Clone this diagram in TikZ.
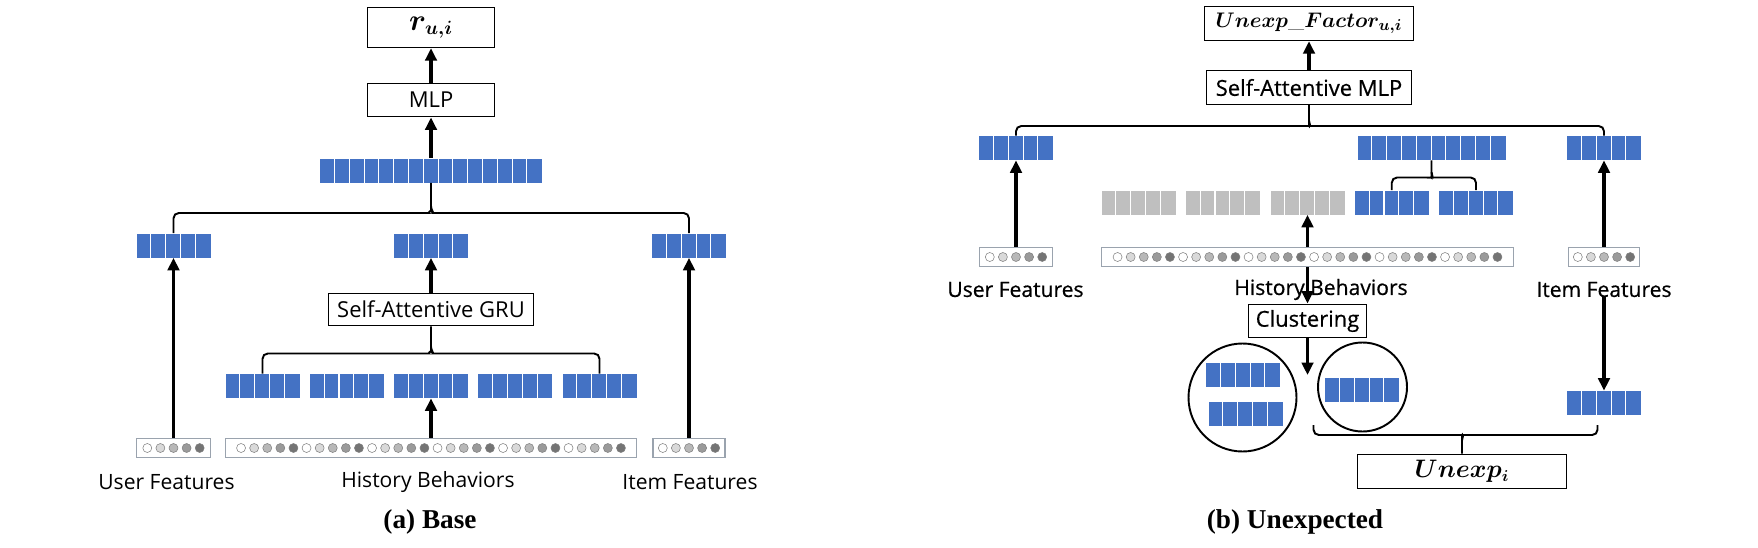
\documentclass[tikz,border=0pt]{standalone}
\usepackage{amsmath,amssymb}
\usepackage{fontspec}
\usepackage{tikz}
\usetikzlibrary{arrows.meta}
\newfontfamily\lblfont{Open Sans}
\newfontfamily\lblfontb{Open Sans}[FakeBold=0.6]
\newfontfamily\captfont{Liberation Serif}
\definecolor{vecblue}{HTML}{4472C4}
\definecolor{vecgray}{HTML}{BFBFBF}
\definecolor{featline}{HTML}{9AA3AE}
\definecolor{dotline}{HTML}{7F7F7F}
\definecolor{dot0}{HTML}{FFFFFF}
\definecolor{dot1}{HTML}{D9D9D9}
\definecolor{dot2}{HTML}{B8B8B8}
\definecolor{dot3}{HTML}{9A9A9A}
\definecolor{dot4}{HTML}{747474}
\newcommand{\cellw}{0.296cm}
\newcommand{\dotstep}{0.262cm}
\tikzset{
  opbox/.style={draw=black, line width=0.8pt, fill=white, inner sep=2pt,
                minimum height=0.67cm, font=\lblfont\fontsize{12.5}{14}\selectfont},
  opboxb/.style={opbox, font=\lblfontb\fontsize{12.5}{14}\selectfont},
  mathbox/.style={opbox, font=\fontsize{13.5}{15}\selectfont\boldmath},
  vecbar/.style={inner sep=0pt, minimum height=0.48cm},
  celldiv/.style={draw=white, line width=0.6pt},
  featbox/.style={draw=featline, line width=0.6pt, inner sep=0pt, minimum height=0.38cm},
  dotc/.style={draw=dotline, line width=0.3pt},
  clusring/.style={circle, draw=black, line width=1.1pt, inner sep=0pt},
  flabel/.style={font=\lblfont\fontsize{12}{14}\selectfont, inner sep=0pt},
  flabelb/.style={font=\lblfontb\fontsize{12}{14}\selectfont, inner sep=0pt},
  arr/.style={-{Triangle[length=0.25cm,width=0.23cm]}, line width=2pt},
  brace/.style={line width=1.1pt, rounded corners=3pt},
  capt/.style={font=\captfont\fontsize{15.5}{17}\selectfont\bfseries},
}
% a row of embedding cells: name, position, cells, fill
\newcommand{\embvec}[4]{%
  \node[vecbar, fill=#4, minimum width=#3*\cellw] (#1) at (#2) {};
  \foreach \k in {2,...,#3}
    \draw[celldiv] ([xshift=\k*\cellw-\cellw]#1.south west) -- ([xshift=\k*\cellw-\cellw]#1.north west);
}
% a feature strip of dots: name, position, dots, box width
\newcommand{\featrow}[4]{%
  \node[featbox, minimum width=#4] (#1) at (#2) {};
  \foreach \k in {1,...,#3}{
    \pgfmathtruncatemacro{\shade}{mod(\k-1,5)}
    \draw[dotc, fill=dot\shade] ([xshift=\k*\dotstep-#3*\dotstep/2-\dotstep/2]#1.center) circle (0.09cm);
  }
}

\begin{document}
\begin{tikzpicture}
  \useasboundingbox (0,0) rectangle (35.16,-10.94);

  % --- (a) Base: top ---
  \node[mathbox, minimum width=2.53cm, minimum height=0.80cm, font=\fontsize{16}{18}\selectfont\boldmath] (rui) at (8.62,-0.55) {$r_{u,i}$};
  \node[opbox, minimum width=2.53cm] (mlp) at (8.62,-2.00) {MLP};
  \embvec{acat}{8.62,-3.41}{15}{vecblue}
  \draw[arr] (mlp.north) -- (rui.south);
  \draw[arr] (acat.north) -- (mlp.south);

  % --- (a) three feature embeddings ---
  \embvec{auser}{3.47,-4.91}{5}{vecblue}
  \embvec{ahist}{8.62,-4.91}{5}{vecblue}
  \embvec{aitem}{13.78,-4.91}{5}{vecblue}
  \coordinate (ajoin) at (8.62,-4.26);
  \draw[brace] (auser.north) |- ([xshift=-4pt]ajoin) to[out=0,in=-90] ([yshift=4pt]ajoin) -- (acat.south);
  \draw[brace] (aitem.north) |- ([xshift=4pt]ajoin) to[out=180,in=-90] ([yshift=4pt]ajoin);

  % --- (a) behaviour sequence ---
  \node[opbox, minimum width=4.10cm, minimum height=0.65cm] (gru) at (8.62,-6.19) {Self-Attentive GRU};
  \draw[arr] (gru.north) -- (ahist.south);
  \foreach \i/\x in {1/5.25, 2/6.935, 3/8.62, 4/10.305, 5/11.99}{
    \embvec{ah\i}{\x,-7.72}{5}{vecblue}
  }
  \coordinate (gjoin) at (8.62,-7.07);
  \draw[brace] (ah1.north) |- ([xshift=-4pt]gjoin) to[out=0,in=-90] ([yshift=4pt]gjoin) -- (gru.south);
  \draw[brace] (ah5.north) |- ([xshift=4pt]gjoin) to[out=180,in=-90] ([yshift=4pt]gjoin);

  % --- (a) inputs ---
  \featrow{auserbox}{3.47,-8.96}{5}{1.47cm}
  \featrow{ahistbox}{8.62,-8.96}{30}{8.23cm}
  \featrow{aitembox}{13.78,-8.96}{5}{1.44cm}
  \draw[arr] (auserbox.north) -- (auser.south);
  \draw[arr] (ahistbox.north) -- (ah3.south);
  \draw[arr] (aitembox.north) -- (aitem.south);
  \node[flabel] (auserlbl) at (3.33,-9.64) {User Features};
  \node[flabel] (ahistlbl) at (8.56,-9.64) {History Behaviors};
  \node[flabel] (aitemlbl) at (13.80,-9.64) {Item Features};
  \node[capt] (capa) at (8.60,-10.44) {(a) Base};

  % --- (b) Unexpected: top ---
  \node[mathbox, minimum width=4.18cm, minimum height=0.68cm, font=\fontsize{12.5}{15}\selectfont\boldmath] (ufac) at (26.18,-0.47) {$Unexp\_Factor_{u,i}$};
  \node[opboxb, minimum width=4.10cm] (samlp) at (26.18,-1.75) {Self-Attentive MLP};
  \draw[arr] (samlp.north) -- (ufac.south);
  \embvec{buser}{20.32,-2.96}{5}{vecblue}
  \embvec{bcat}{28.63,-2.96}{10}{vecblue}
  \embvec{bitem}{32.08,-2.96}{5}{vecblue}
  \coordinate (bjoin) at (26.18,-2.52);
  \draw[brace] (buser.north) |- ([xshift=-3pt]bjoin) to[out=0,in=-90] ([yshift=3pt]bjoin) -- (samlp.south);
  \draw[brace] (bitem.north) |- ([xshift=3pt]bjoin) to[out=180,in=-90] ([yshift=3pt]bjoin);

  % --- (b) behaviour embeddings ---
  \embvec{bh1}{22.77,-4.05}{5}{vecgray}
  \embvec{bh2}{24.455,-4.05}{5}{vecgray}
  \embvec{bh3}{26.15,-4.05}{5}{vecgray}
  \embvec{bh4}{27.835,-4.05}{5}{vecblue}
  \embvec{bh5}{29.52,-4.05}{5}{vecblue}
  \coordinate (cjoin) at (28.63,-3.55);
  \draw[brace] (bh4.north) |- ([xshift=-3pt]cjoin) to[out=0,in=-90] ([yshift=3pt]cjoin) -- (bcat.south);
  \draw[brace] (bh5.north) |- ([xshift=3pt]cjoin) to[out=180,in=-90] ([yshift=3pt]cjoin);

  % --- (b) inputs ---
  \featrow{buserbox}{20.32,-5.14}{5}{1.45cm}
  \featrow{bhistbox}{26.15,-5.14}{30}{8.23cm}
  \featrow{bitembox}{32.08,-5.14}{5}{1.43cm}
  \draw[arr] (buserbox.north) -- (buser.south);
  \draw[arr] (bhistbox.north) -- (bh3.south);
  \draw[arr] (bitembox.north) -- (bitem.south);
  \node[flabelb] (buserlbl) at (20.31,-5.79) {User Features};
  \node[flabelb] (bhistlbl) at (26.42,-5.79) {History Behaviors};
  \node[flabelb] (bitemlbl) at (32.08,-5.79) {Item Features};

  % --- (b) clustering ---
  \node[opboxb, minimum width=2.37cm] (clus) at (26.15,-6.42) {Clustering};
  \draw[arr] (bhistbox.south) -- (clus.north);
  \coordinate (clend) at (26.15,-7.50);
  \draw[arr] (clus.south) -- (clend);
  \node[clusring, minimum size=2.16cm] (ring1) at (24.85,-7.95) {};
  \node[clusring, minimum size=1.78cm] (ring2) at (27.25,-7.74) {};
  \embvec{ca}{24.86,-7.50}{5}{vecblue}
  \embvec{cb}{24.91,-8.28}{5}{vecblue}
  \embvec{cc}{27.24,-7.79}{5}{vecblue}

  % --- (b) unexpectedness ---
  \embvec{bitemlow}{32.08,-8.06}{5}{vecblue}
  \draw[arr] (bitemlbl.south) -- (bitemlow.north);
  \node[mathbox, minimum width=4.18cm, minimum height=0.69cm] (unexp) at (29.24,-9.43) {$Unexp_{i}$};
  \coordinate (dleft) at (26.27,-8.50);
  \coordinate (dright) at (31.95,-8.50);
  \coordinate (djoin) at (29.24,-8.70);
  \draw[brace] (dleft) |- ([xshift=-3pt]djoin) to[out=0,in=90] ([yshift=-3pt]djoin) -- (unexp.north);
  \draw[brace] (dright) |- ([xshift=3pt]djoin) to[out=180,in=90] ([yshift=-3pt]djoin);
  \node[capt] (capb) at (25.90,-10.44) {(b) Unexpected};
\end{tikzpicture}
\end{document}
